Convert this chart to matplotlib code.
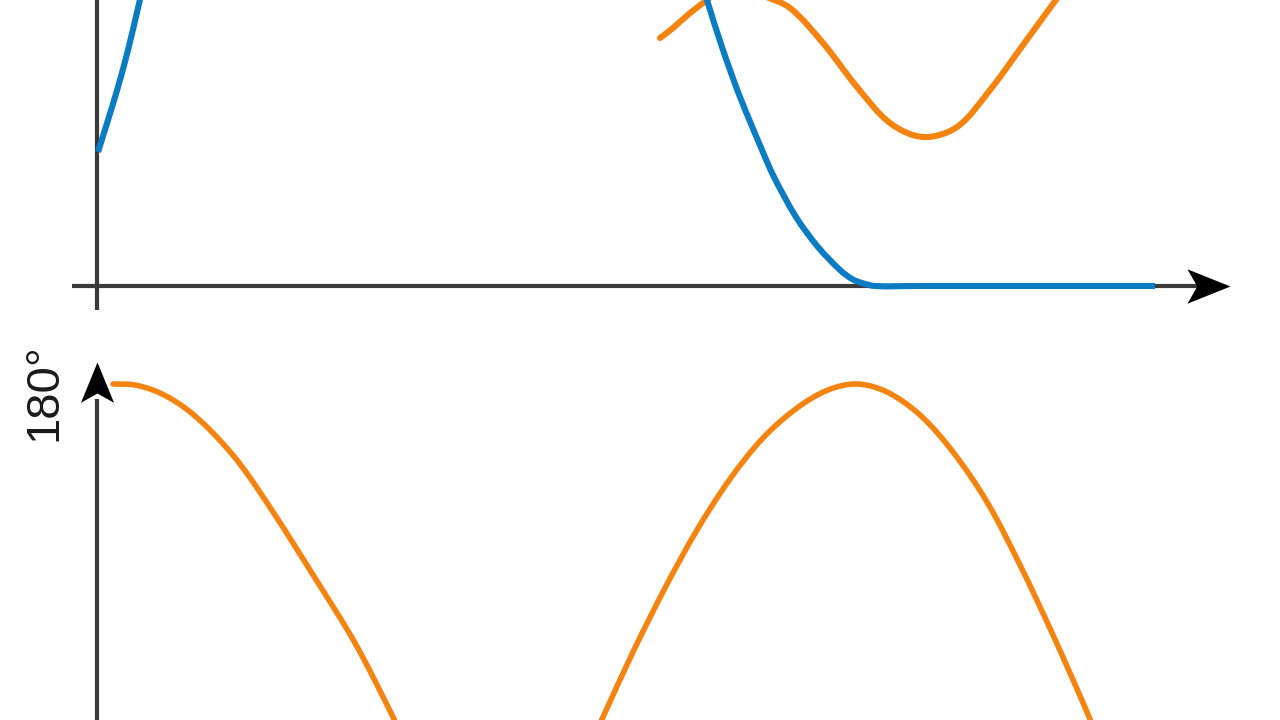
import numpy as np
import matplotlib
matplotlib.use("Agg")
import matplotlib.pyplot as plt
from matplotlib.path import Path
from matplotlib.patches import PathPatch
from matplotlib import font_manager

nan = np.nan

# ---- data (x: time units from the vertical axis; top y: amplitude; bottom y: degrees) ----
blue_x = [1, 11, 21, 31, 41, 44, nan,
          608, 610, 626, 643, 665, 677, 699, 721, 743, 755, 765, 778, 820, 1058]
blue_y = [134, 166, 199, 236, 278, 291, nan,
          294, 286, 236, 189, 136, 109, 69, 39, 16, 7, 3, 0, 0, 0]

orange_top_x = [563, 576, 593, 610, 615, nan,
                665, 693, 726, 760, 793, 826, 860, 893, 926, 961]
orange_top_y = [248, 258, 273, 286, 290, nan,
                291, 278, 243, 199, 163, 149, 159, 196, 241, 289]

angle_x = [16, 38, 63, 88, 113, 143, 178, 218, 258, 296, 307, nan,
           493, 506, 536, 568, 600, 633, 666, 700, 731, 760,
           790, 823, 856, 890, 923, 956, 990, 998, 1004]
angle_deg = [179.5, 179, 175, 167.5, 156.5, 139.5, 114, 82.5, 50, 13, 0.5, nan,
             -1, 13, 45.5, 77.5, 106.5, 132, 152.5, 167.5, 176.5, 179.5,
             175.5, 164, 145.5, 120.5, 89, 54, 15.5, 5.5, -2]

angle_label = "180°"

# ---- style ----
BLUE = "#0b7bc3"
ORANGE = "#f5830f"
AXIS = "#3a3a3a"


def smooth_line(ax, xs, ys, **kw):
    """Draw a smooth (chord-length Catmull-Rom) curve through the data points."""
    xs = np.asarray(xs, float)
    ys = np.asarray(ys, float)
    bad = np.isnan(xs) | np.isnan(ys)
    idx = np.where(bad)[0]
    starts = np.concatenate([[0], idx + 1])
    ends = np.concatenate([idx, [len(xs)]])
    verts, codes = [], []
    for s, e in zip(starts, ends):
        P = np.column_stack([xs[s:e], ys[s:e]])
        n = len(P)
        if n < 2:
            continue
        D = ax.transData.transform(P)
        d = np.sqrt(((D[1:] - D[:-1]) ** 2).sum(axis=1))
        t = np.concatenate([[0], np.cumsum(d)])
        M = np.zeros_like(P)
        for i in range(n):
            if i == 0:
                M[i] = (P[1] - P[0]) / (t[1] - t[0])
            elif i == n - 1:
                M[i] = (P[-1] - P[-2]) / (t[-1] - t[-2])
            else:
                M[i] = (P[i + 1] - P[i - 1]) / (t[i + 1] - t[i - 1])
        verts.append(P[0]); codes.append(Path.MOVETO)
        for i in range(n - 1):
            h = t[i + 1] - t[i]
            verts.append(P[i] + M[i] * h / 3); codes.append(Path.CURVE4)
            verts.append(P[i + 1] - M[i + 1] * h / 3); codes.append(Path.CURVE4)
            verts.append(P[i + 1]); codes.append(Path.CURVE4)
    patch = PathPatch(Path(verts, codes), fill=False, **kw)
    ax.add_patch(patch)
    return patch


fig = plt.figure(figsize=(12.8, 7.2), dpi=100)
fig.patch.set_facecolor("white")

ax_top = fig.add_axes([0, 1 - 330 / 720, 1, 330 / 720])
ax_bot = fig.add_axes([0, 0, 1, 390 / 720])
for ax in (ax_top, ax_bot):
    ax.set_xlim(-97, 1183)
    ax.axis("off")
ax_top.set_ylim(-44, 286)
ax_bot.set_ylim(11.5, 206.5)

# arrow head markers (stealth-like with notch)
right_head = Path([(0, 0), (-1, 0.4), (-0.77, 0), (-1, -0.4), (0, 0)],
                  [Path.MOVETO, Path.LINETO, Path.LINETO, Path.LINETO, Path.CLOSEPOLY])
up_head = Path([(0, 0), (0.41, -1), (0, -0.77), (-0.41, -1), (0, 0)],
               [Path.MOVETO, Path.LINETO, Path.LINETO, Path.LINETO, Path.CLOSEPOLY])

# top panel axes
ax_top.plot([0, 0], [-24, 300], color=AXIS, lw=3.0, solid_capstyle="butt", zorder=2)
ax_top.plot([-25, 1110], [0, 0], color=AXIS, lw=3.0, solid_capstyle="butt", zorder=2)
ax_top.plot([1133], [0], marker=right_head, markersize=62, color="black",
            markeredgewidth=0, zorder=5, clip_on=False)

# top panel curves
smooth_line(ax_top, orange_top_x, orange_top_y, edgecolor=ORANGE, lw=4.4,
            capstyle="round", joinstyle="round", zorder=3)
smooth_line(ax_top, blue_x, blue_y, edgecolor=BLUE, lw=4.4,
            capstyle="butt", joinstyle="round", zorder=4)

# bottom panel axis
ax_bot.plot([0, 0], [-20, 172], color=AXIS, lw=3.0, solid_capstyle="butt", zorder=2)
ax_bot.plot([0], [190.5], marker=up_head, markersize=58, color="black",
            markeredgewidth=0, zorder=5, clip_on=False)

smooth_line(ax_bot, angle_x, angle_deg, edgecolor=ORANGE, lw=4.0,
            capstyle="round", joinstyle="round", zorder=3)

names = {f.name for f in font_manager.fontManager.ttflist}
fam = [f for f in ["Liberation Sans Narrow", "Liberation Sans", "DejaVu Sans"] if f in names]
ax_bot.text(-52.5, 175.5, angle_label, rotation=90, ha="center", va="center",
            fontsize=34, color="#1a1a1a", family=fam)

fig.savefig("out.png", dpi=100, facecolor="white")
